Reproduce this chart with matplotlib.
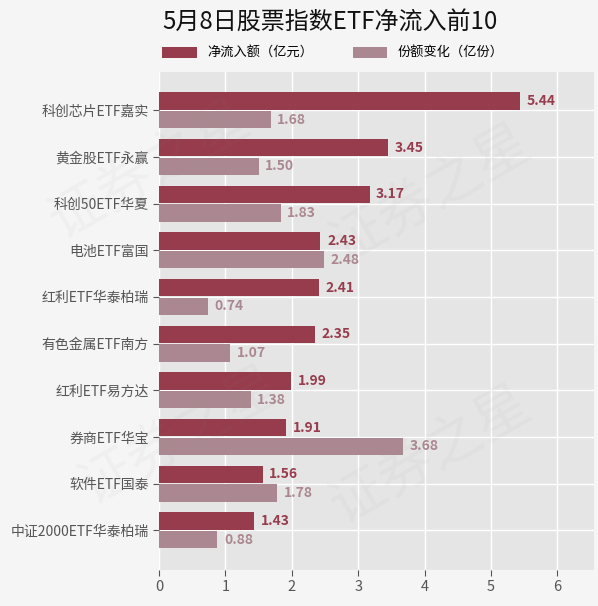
import matplotlib.pyplot as plt
import numpy as np

plt.rcParams['font.family'] = ['Noto Sans CJK SC', 'DejaVu Sans']

names = ["科创芯片ETF嘉实", "黄金股ETF永赢", "科创50ETF华夏", "电池ETF富国", "红利ETF华泰柏瑞",
         "有色金属ETF南方", "红利ETF易方达", "券商ETF华宝", "软件ETF国泰", "中证2000ETF华泰柏瑞"]
inflow = [5.44, 3.45, 3.17, 2.43, 2.41, 2.35, 1.99, 1.91, 1.56, 1.43]
shares = [1.68, 1.50, 1.83, 2.48, 0.74, 1.07, 1.38, 3.68, 1.78, 0.88]

c1 = "#973c4c"
c2 = "#ab8891"

fig = plt.figure(figsize=(5.98, 6.06), dpi=100, facecolor="#f5f5f5")
ax = fig.add_axes([159/598, 1-570/606, (594-159)/598, (570-72)/606])
ax.set_facecolor("#e5e5e5")

y = np.arange(len(names))
h = 0.37
b1 = ax.barh(y - 0.2, inflow, height=h, color=c1, label="净流入额（亿元）", zorder=3)
b2 = ax.barh(y + 0.2, shares, height=h, color=c2, label="份额变化（亿份）", zorder=3)

for r, v in zip(b1, inflow):
    ax.text(v + 0.1, r.get_y() + r.get_height()/2, f"{v:.2f}", color=c1, fontsize=10,
            fontweight="bold", va="center", ha="left", zorder=4)
for r, v in zip(b2, shares):
    ax.text(v + 0.1, r.get_y() + r.get_height()/2, f"{v:.2f}", color=c2, fontsize=10,
            fontweight="bold", va="center", ha="left", zorder=4)

ax.set_yticks(y)
ax.set_yticklabels(names, fontsize=10, color="#444444")
ax.set_xticks(range(7))
ax.tick_params(axis="x", labelsize=10.5, colors="#555555", length=4)
ax.tick_params(axis="y", length=4, colors="#555555")
ax.set_xlim(0, 6.55)
ax.set_ylim(9.85, -0.82)
ax.grid(True, color="white", linewidth=1, zorder=0)
for s in ax.spines.values():
    s.set_visible(False)

fig.text(0.552, 0.963, "5月8日股票指数ETF净流入前10", ha="center", va="center", fontsize=17.3, color="#111111")
ax.legend(loc="lower center", bbox_to_anchor=(0.4, 1.0), ncol=2, frameon=False, fontsize=9.5,
          handlelength=2.6, handleheight=0.9, columnspacing=3)

# watermark
for wx, wy in [(0.25, 0.72), (0.72, 0.68), (0.3, 0.28), (0.72, 0.25)]:
    fig.text(wx, wy, "证券之星", fontsize=40, color="#888888", alpha=0.05, rotation=30,
             ha="center", va="center", zorder=10)

fig.savefig("out.png", dpi=100, facecolor=fig.get_facecolor())
